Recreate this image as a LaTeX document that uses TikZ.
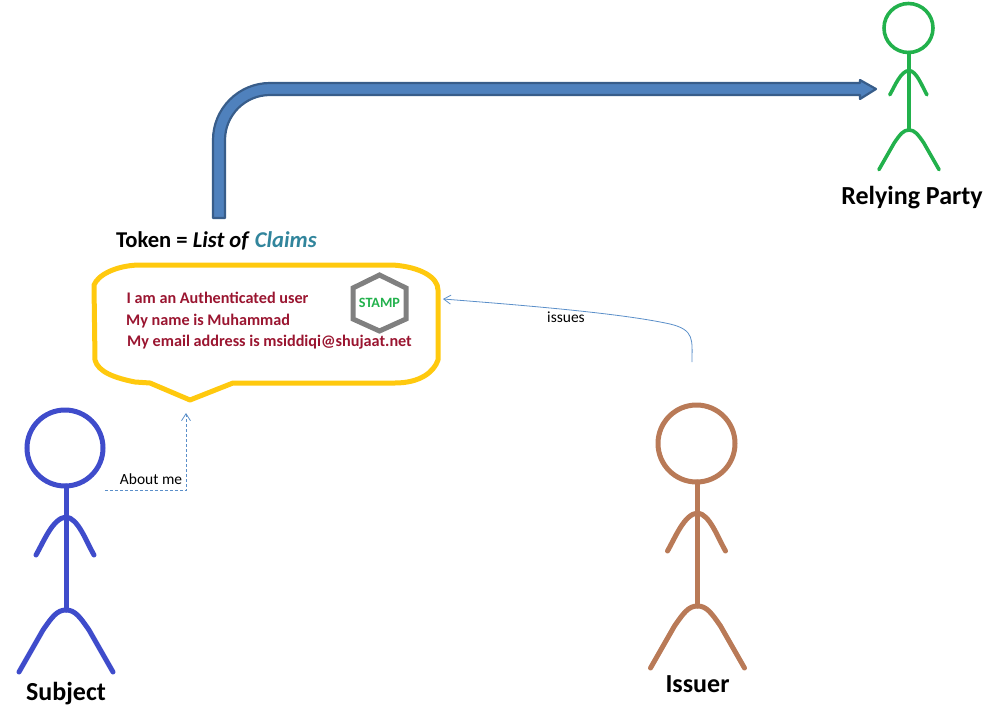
\documentclass[tikz,border=0pt]{standalone}
\usepackage{fontspec}
\setmainfont{Carlito}
\usetikzlibrary{arrows.meta}
\definecolor{subj}{HTML}{3F4CCB}
\definecolor{issu}{HTML}{B97A57}
\definecolor{rely}{HTML}{22B14C}
\definecolor{bubble}{HTML}{FFC90E}
\definecolor{arrowfill}{HTML}{4F81BD}
\definecolor{arrowline}{HTML}{385D8A}
\definecolor{thin}{HTML}{5B8FC9}
\definecolor{claimtxt}{HTML}{9A1530}
\definecolor{claims}{HTML}{31859C}
\tikzset{
  limb/.style={line width=#1,line cap=round,line join=round},
  actorname/.style={font=\bfseries\fontsize{26}{30}\selectfont,inner sep=0pt,anchor=base},
  smalllabel/.style={font=\fontsize{15.5}{18}\selectfont,inner sep=0pt,anchor=base},
  claimline/.style={font=\bfseries\fontsize{16.2}{19}\selectfont,text=claimtxt,inner sep=0pt,anchor=base west},
  thinlink/.style={draw=thin,line width=0.8pt,-{Straight Barb[length=7pt,width=9pt,line width=0.8pt]}}
}
% #1 name, #2 colour, #3 body x, #4 head y, #5 radius, #6 stroke, #7 head x, #8 scale, #9 hip y
% Arms and legs are scaled offsets from the shoulder and the hip.
\newcommand{\stickman}[9]{%
  \node[circle,draw=#2,line width=#6,minimum size=#5*2pt,inner sep=0pt] (#1) at (#7,#4) {};
  \draw[limb=#6,#2] (#3,#4+#5) -- (#3,#9);
  \draw[limb=#6,#2,shift={(#3,#9)},scale=#8]
    (-47,62) -- (-23,20) .. controls (-14,7) and (-9,0) .. (0,0) .. controls (9,0) and (14,7) .. (23,20) -- (47,62);
  \draw[limb=#6,#2,shift={(#3,#9-93*#8)},scale=#8]
    (-30,38) .. controls (-22,24) and (-13,1) .. (0,0) .. controls (12,1) and (20,24) .. (28,38);
}
\begin{document}
\begin{tikzpicture}[x=1pt,y=-1pt]
\useasboundingbox (0,0) rectangle (991,707);
% Relying party
\stickman{relying}{rely}{909}{28}{24.5}{3.6pt}{908.5}{0.64}{130}
\node[actorname] (relyingname) at (912,204) {Relying Party};
% Subject
\stickman{subject}{subj}{66}{448}{38}{5pt}{65}{1}{610}
\node[actorname] (subjectname) at (66,700) {Subject};
% Issuer
\stickman{issuer}{issu}{697.5}{443.5}{38.5}{5pt}{696.5}{1}{606}
\node[actorname] (issuername) at (697.5,692) {Issuer};
% Bubble
\draw[bubble,line width=5pt,line join=round]
  (138,265) -- (393,265) .. controls (420,267) and (438,277) .. (438,290)
  -- (438,360) .. controls (434,372) and (420,383) .. (395,383)
  -- (233,383) -- (190,400) -- (150,383) -- (135,382)
  .. controls (115,378) and (98,372) .. (95,360)
  -- (94,285) .. controls (98,275) and (115,266) .. (138,265) -- cycle;
\coordinate (bubbletip) at (186,413);
\coordinate (bubbleright) at (443,299);
% Stamp
\node[inner sep=0pt,font=\bfseries\fontsize{14.2}{16}\selectfont,text=rely] (stamp) at (379.5,303) {STAMP};
\draw[line width=5pt,line join=miter,color=black!50] (379.5,275) -- (406,288) -- (406,319) -- (379.5,331) -- (353,319) -- (353,288) -- cycle;
% Texts
\node[anchor=base west,inner sep=0pt,font=\bfseries\fontsize{22.6}{26}\selectfont] (token) at (116,247) {Token = \textit{List of} \textcolor{claims}{\textit{Claims}}};
\node[claimline] (c1) at (126.5,303.5) {I am an Authenticated user};
\node[claimline] (c2) at (126,325) {My name is Muhammad};
\node[claimline] (c3) at (127,346) {My email address is msiddiqi@shujaat.net};
% Big arrow
\draw[arrowline,fill=arrowfill,line width=2.2pt,line join=round]
  (213,218) -- (213,140) arc[start angle=180,end angle=270,radius=57] -- (860,83) -- (860,80)
  -- (876,89) -- (860,99) -- (860,95) -- (270,95) arc[start angle=270,end angle=180,radius=45] -- (225,218) -- cycle;
% Thin connectors
\coordinate (aboutstart) at (105,490.5);
\draw[thinlink,dashed,dash pattern=on 3pt off 2pt] (aboutstart) -- (186,490.5) -- (bubbletip);
\node[smalllabel] (aboutlabel) at (151,484) {About me};
\coordinate (issuestart) at (692,362);
\draw[thinlink] (issuestart) .. controls (692,340) and (695,330) .. (670,324) .. controls (620,313) and (520,305) .. (bubbleright);
\node[smalllabel] (issueslabel) at (566,322) {issues};
\end{tikzpicture}
\end{document}
